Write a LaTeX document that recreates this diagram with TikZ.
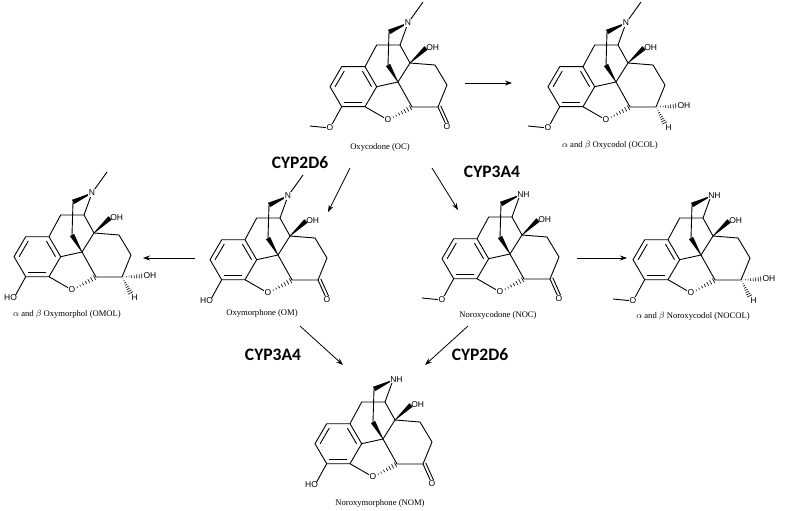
\documentclass[tikz,border=0pt]{standalone}
\usepackage{fontspec}
\setmainfont{Liberation Serif}
\setsansfont{Liberation Sans}
\newfontfamily\cypfont{Carlito}
\usetikzlibrary{calc,arrows.meta}
\tikzset{
  bond/.style={line width=0.9pt,line join=round},
  atom/.style={font=\sffamily\fontsize{8.5}{9}\selectfont,fill=white,inner sep=0.6pt},
  cyp/.style={font=\cypfont\bfseries\fontsize{17.5}{18}\selectfont},
  molname/.style={font=\fontsize{8.6}{10}\selectfont},
  rxn/.style={line width=0.8pt,-{Stealth[length=7pt,width=5pt]}}
}
\newcommand\hashb[2]{\foreach \t in {0.1,0.22,...,1.0}{\draw[line width=0.6pt] ($(#1)!\t!(#2)!{\t*2.8pt}!90:(#2)$) -- ($(#1)!\t!(#2)!{\t*2.8pt}!-90:(#2)$);}}
\newcommand\wedgeb[2]{\fill ($(#1)!0.3pt!90:(#2)$) -- ($(#2)!2.4pt!-90:(#1)$) -- ($(#2)!2.4pt!90:(#1)$) -- ($(#1)!0.3pt!-90:(#2)$) -- cycle;}
% #1,#2 shift; #3 N-methyl(1)/NH(0); #4 OMe(1)/HO(0); #5 ketone(1)/alcohol(0)
\newcommand\molec[5]{%
\begin{scope}[shift={(#1,#2)}]
\coordinate (b1) at (31.7,66.7); \coordinate (b2) at (55,66.7);
\coordinate (b3) at (66.7,86.7); \coordinate (b4) at (55,106.7);
\coordinate (b5) at (31.7,106.7); \coordinate (b6) at (20,86.7);
\coordinate (bc) at (43.3,86.7);
\coordinate (O3) at (20,128); \coordinate (me) at (0,126);
\coordinate (C10) at (66.7,45); \coordinate (C9) at (90,45);
\coordinate (N) at (98,23); \coordinate (Nme) at (113,2);
\coordinate (C16) at (79,32); \coordinate (C15) at (78,65);
\coordinate (C13) at (88,82); \coordinate (C14) at (100,63);
\coordinate (OHa) at (116,48); \coordinate (C8) at (125,65);
\coordinate (C7) at (137,85); \coordinate (C6) at (128,107);
\coordinate (Ok) at (137,127); \coordinate (C5) at (102,107);
\coordinate (Or) at (78,120);
\draw[bond] (b1)--(b2)--(b3)--(b4)--(b5)--(b6)--cycle;
\draw[bond] ($(bc)!0.78!(b6)$)--($(bc)!0.78!(b1)$);
\draw[bond] ($(bc)!0.78!(b2)$)--($(bc)!0.78!(b3)$);
\draw[bond] ($(bc)!0.78!(b4)$)--($(bc)!0.78!(b5)$);
\draw[bond] (b5)--(O3);
\draw[bond] (b2)--(C10)--(C9)--(N);
\draw[bond] (C9)--(C14)--(C13)--(b3);
\wedgeb{N}{C16}
\draw[bond] (C15)--(C16);
\wedgeb{C13}{C15}
\draw[bond] (C14)--(C8)--(C7)--(C6)--(C5)--(C13);
\draw[bond] (b4)--(Or);
\hashb{Or}{C5}
\wedgeb{C14}{OHa}
\node[atom,anchor=west,fill=none] at ($(OHa)+(-0.5,0)$) {OH};
\ifnum#3=1
  \draw[bond] (N)--(Nme);
  \node[atom] at (N) {N};
\else
  \node[atom,anchor=west,inner sep=0.3pt] at ($(N)+(-3.2,0)$) {NH};
\fi
\ifnum#4=1
  \draw[bond] (O3)--(me);
  \node[atom] at (O3) {O};
\else
  \node[atom,anchor=east,inner sep=0.3pt] at ($(O3)+(3.4,0)$) {HO};
\fi
\ifnum#5=1
  \draw[bond] (C6)--(Ok);
  \draw[bond] ($(C6)!3pt!90:(Ok)$)--($(Ok)!3pt!-90:(C6)$);
  \node[atom] at (Ok) {O};
\else
  \coordinate (Oa) at (149,106);
  \coordinate (Ha) at (137,124);
  \hashb{C6}{Oa}
  \hashb{C6}{Ha}
  \node[atom,anchor=west,fill=none,inner sep=0.3pt] at (Oa) {OH};
  \node[atom,anchor=north west,fill=none,inner sep=0.3pt] at (Ha) {H};
\fi
\node[atom] at (Or) {O};
\end{scope}}
\begin{document}
\begin{tikzpicture}[x=1pt,y=-1pt]
\useasboundingbox[fill=white] (0,0) rectangle (785,511);
\molec{310}{0}{1}{1}{1}
\molec{528}{0}{1}{1}{0}
\molec{190}{173}{1}{0}{1}
\molec{-6}{170}{1}{0}{0}
\molec{422}{172}{0}{1}{1}
\molec{613}{173}{0}{1}{0}
\molec{295}{357}{0}{0}{1}
\node[molname] (nOC) at (380,147) {Oxycodone (OC)};
\node[molname] (nOCOL) at (610,145) {$\alpha$ and $\beta$ Oxycodol (OCOL)};
\node[molname] (nOM) at (262,313) {Oxymorphone (OM)};
\node[molname] (nOMOL) at (67,314) {$\alpha$ and $\beta$ Oxymorphol (OMOL)};
\node[molname] (nNOC) at (498,315) {Noroxycodone (NOC)};
\node[molname] (nNOCOL) at (693,316) {$\alpha$ and $\beta$ Noroxycodol (NOCOL)};
\node[molname] (nNOM) at (380,503) {Noroxymorphone (NOM)};
\node[cyp] (c1) at (300,163) {CYP2D6};
\node[cyp] (c2) at (492,172) {CYP3A4};
\node[cyp] (c3) at (273,355) {CYP3A4};
\node[cyp] (c4) at (480,355) {CYP2D6};
\coordinate (a1s) at (465,83); \coordinate (a1e) at (512,83);
\coordinate (a2s) at (350,168); \coordinate (a2e) at (328,212);
\coordinate (a3s) at (432,168); \coordinate (a3e) at (458,210);
\coordinate (a4s) at (195,258); \coordinate (a4e) at (143,258);
\coordinate (a5s) at (577,258); \coordinate (a5e) at (627,258);
\coordinate (a6s) at (300,326); \coordinate (a6e) at (343,365);
\coordinate (a7s) at (468,326); \coordinate (a7e) at (425,365);
\foreach \i in {1,...,7}{\draw[rxn] (a\i s) -- (a\i e);}
\end{tikzpicture}
\end{document}
